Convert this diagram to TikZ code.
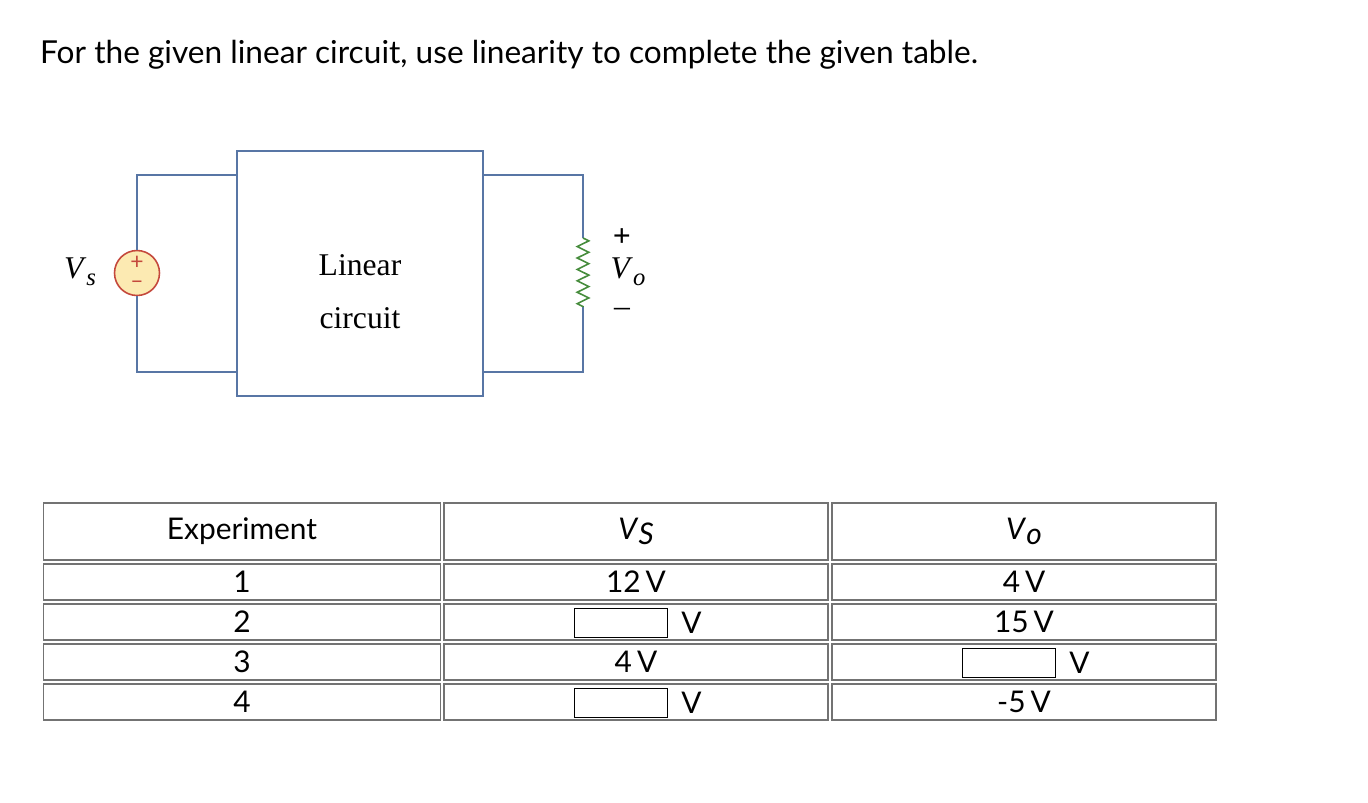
\documentclass[tikz,border=0pt]{standalone}
\usepackage{fontspec}
\setmainfont{Lato}
\newfontfamily\serifc{Liberation Serif}
\usetikzlibrary{positioning,decorations.pathmorphing}
\definecolor{wirec}{RGB}{88,118,165}
\definecolor{srcfill}{RGB}{252,234,178}
\definecolor{srcdraw}{RGB}{196,72,60}
\definecolor{resc}{RGB}{70,140,60}
\tikzset{%
  wire/.style  = { draw = wirec, line width = 0.9pt },
  cell/.style  = { draw = black!55, line width = 0.9pt, minimum height = #1*0.02cm - 1.2pt, inner sep = 0pt },
  blank/.style = { draw = black, line width = 0.8pt, minimum width = 1.86cm, minimum height = 0.58cm },
  ttext/.style = { font = \fontsize{17}{20}\selectfont },
  stext/.style = { font = \fontsize{18}{22}\serifc, inner sep = 1pt },
}
\newcommand{\volt}[1]{#1\,V}
\newcommand{\svar}[2]{\textit{#1}\raisebox{-4pt}{\fontsize{14}{14}\selectfont\textit{#2}}}
\begin{document}
\begin{tikzpicture}[x=0.02cm, y=-0.02cm]
  \useasboundingbox (0,0) rectangle (1368,802);
  % title ----------------------------------------------------------------------------------------
  \node(title) [font = \fontsize{18}{22}\selectfont, anchor = west] at (34,55) {For the given linear circuit, use linearity to complete the given table.};
  % circuit --------------------------------------------------------------------------------------
  \node(lin) [wire, minimum width = 4.92cm, minimum height = 4.9cm] at (360,273.5) {};
  \node(lintext) [stext, align = center] at (360,292) {Linear\\[8pt]circuit};
  \coordinate(lt) at (137,175); \coordinate(lb) at (137,372);
  \coordinate(rt) at (583,175); \coordinate(rb) at (583,372);
  \coordinate(ra) at (583,238); \coordinate(rz) at (583,307);
  \node(src) [circle, draw = srcdraw, fill = srcfill, line width = 0.9pt, minimum size = 0.9cm, inner sep = 0pt] at (137,273) {};
  \node(sp) [text = srcdraw, font = \fontsize{13}{13}\selectfont, inner sep = 0pt] at (137,263) {+};
  \node(sm) [text = srcdraw, font = \fontsize{13}{13}\selectfont, inner sep = 0pt] at (137,285) {\textendash};
  \draw[wire] (src.north) -- (lt) -- (lt -| lin.west);
  \draw[wire] (src.south) -- (lb) -- (lb -| lin.west);
  \draw[wire] (lin.east |- rt) -- (rt) -- (ra);
  \draw[wire] (lin.east |- rb) -- (rb) -- (rz);
  \draw[resc, line width = 0.9pt, decorate, decoration = {zigzag, amplitude = 3.3pt, segment length = 6.5pt}] (ra) -- (rz);
  \node(vs) [stext] at (80,272) {\svar{V}{s}};
  \node(vp) [stext] at (622,238) {\textbf{+}};
  \node(vo) [stext] at (628,272) {\svar{V}{o}};
  \node(vm) [stext] at (622,312) {\textendash};
  % table ----------------------------------------------------------------------------------------
  \foreach \c/\x/\w in {a/242/399, b/636/386, c/1024/386} {
    \node(h\c) [cell=59, minimum width = \w*0.02cm - 1.2pt] at (\x,531.5) {};
    \foreach \r/\y in {1/582, 2/622, 3/662, 4/702}
      \node(\c\r) [cell=38, minimum width = \w*0.02cm - 1.2pt] at (\x,\y) {};
  }
  \node [ttext] at (ha) {Experiment};
  \node [ttext] at (hb) {\textit{V}\raisebox{-3pt}{\textit{S}}};
  \node [ttext] at (hc) {\textit{V}\raisebox{-3pt}{\textit{o}}};
  \foreach \r in {1,...,4} \node [ttext] at (a\r) {\r};
  \node [ttext] at (b1) {\volt{12}};
  \node [ttext] at (b3) {\volt{4}};
  \node [ttext] at (c1) {\volt{4}};
  \node [ttext] at (c2) {\volt{15}};
  \node [ttext] at (c4) {\volt{-5}};
  % answer boxes
  \node(x2) [blank] at (621,623) {};
  \node [ttext, right = 4pt of x2] {V};
  \node(x4) [blank] at (621,703) {};
  \node [ttext, right = 4pt of x4] {V};
  \node(y3) [blank] at (1009,663) {};
  \node [ttext, right = 4pt of y3] {V};
\end{tikzpicture}
\end{document}
